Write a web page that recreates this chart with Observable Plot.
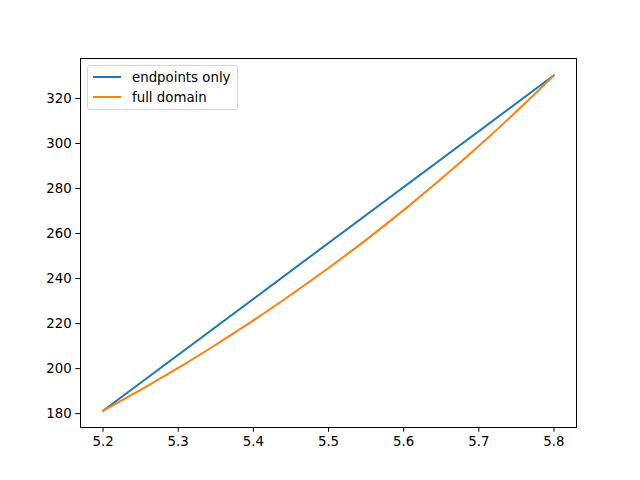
<!DOCTYPE html>
<html>
<head>
<meta charset="utf-8">
<script src="https://cdn.jsdelivr.net/npm/d3@7"></script>
<script src="https://cdn.jsdelivr.net/npm/@observablehq/plot@0.6"></script>
<style>
  body { margin: 0; background: #fff; }
  #wrap { position: relative; width: 640px; height: 480px; font-family: "DejaVu Sans", sans-serif; }
  #legend { position: absolute; left: 87px; top: 65px; width: 151px; height: 45px; border: 1px solid #d6d6d6; border-radius: 3px; background: rgba(255,255,255,0.8); font-size: 13.33px; color: #000; box-sizing: border-box; }
  .item { position: absolute; left: 5px; height: 16px; display: flex; align-items: center; }
  .sw { width: 28px; height: 2px; margin-right: 11px; }
</style>
</head>
<body>
<div id="wrap"></div>
<script>
const endX = [5.2, 5.8];
const endY = [181.3, 330.3];
const fullX = [5.20, 5.25, 5.30, 5.35, 5.40, 5.45, 5.50, 5.55, 5.60, 5.65, 5.70, 5.75, 5.80];
const fullY = [181.3, 190.6, 200.3, 210.6, 221.4, 232.8, 244.7, 257.2, 270.4, 284.3, 298.9, 314.2, 330.3];
const seriesNames = ["endpoints only", "full domain"];
const colors = ["#1f77b4", "#ff7f0e"];
const xTicks = [5.2, 5.3, 5.4, 5.5, 5.6, 5.7, 5.8];
const yTicks = [180, 200, 220, 240, 260, 280, 300, 320];

const endData = endX.map((x, i) => ({x, y: endY[i]}));
const fullData = fullX.map((x, i) => ({x, y: fullY[i]}));

const xmin = 5.2, xmax = 5.8, ymin = 181.3, ymax = 330.3;
const px = (xmax - xmin) * 0.05, py = (ymax - ymin) * 0.05;

const chart = Plot.plot({
  width: 640, height: 480,
  marginLeft: 80, marginRight: 64, marginTop: 58, marginBottom: 53,
  style: {fontFamily: "DejaVu Sans, sans-serif", fontSize: "13.33px", color: "#000", background: "#fff"},
  x: {domain: [xmin - px, xmax + px], ticks: xTicks, tickFormat: d3.format(".1f"), label: null},
  y: {domain: [ymin - py, ymax + py], ticks: yTicks, tickFormat: d3.format("d"), label: null},
  marks: [
    Plot.axisX({ticks: xTicks, tickFormat: d3.format(".1f"), tickSize: 4.7, tickPadding: 4, stroke: "#000", fontSize: 13.33, label: null}),
    Plot.axisY({ticks: yTicks, tickFormat: d3.format("d"), tickSize: 4.7, tickPadding: 4, stroke: "#000", fontSize: 13.33, label: null}),
    Plot.line(endData, {x: "x", y: "y", stroke: colors[0], strokeWidth: 2}),
    Plot.line(fullData, {x: "x", y: "y", stroke: colors[1], strokeWidth: 2, curve: "natural"}),
    Plot.frame({stroke: "#000", strokeWidth: 1})
  ]
});
const wrap = document.getElementById("wrap");
wrap.appendChild(chart);

const legend = document.createElement("div");
legend.id = "legend";
seriesNames.forEach((name, i) => {
  const it = document.createElement("div");
  it.className = "item";
  it.style.top = (3 + i * 20) + "px";
  const sw = document.createElement("div");
  sw.className = "sw";
  sw.style.background = colors[i];
  const t = document.createElement("span");
  t.textContent = name;
  it.appendChild(sw); it.appendChild(t);
  legend.appendChild(it);
});
wrap.appendChild(legend);
</script>
</body>
</html>
